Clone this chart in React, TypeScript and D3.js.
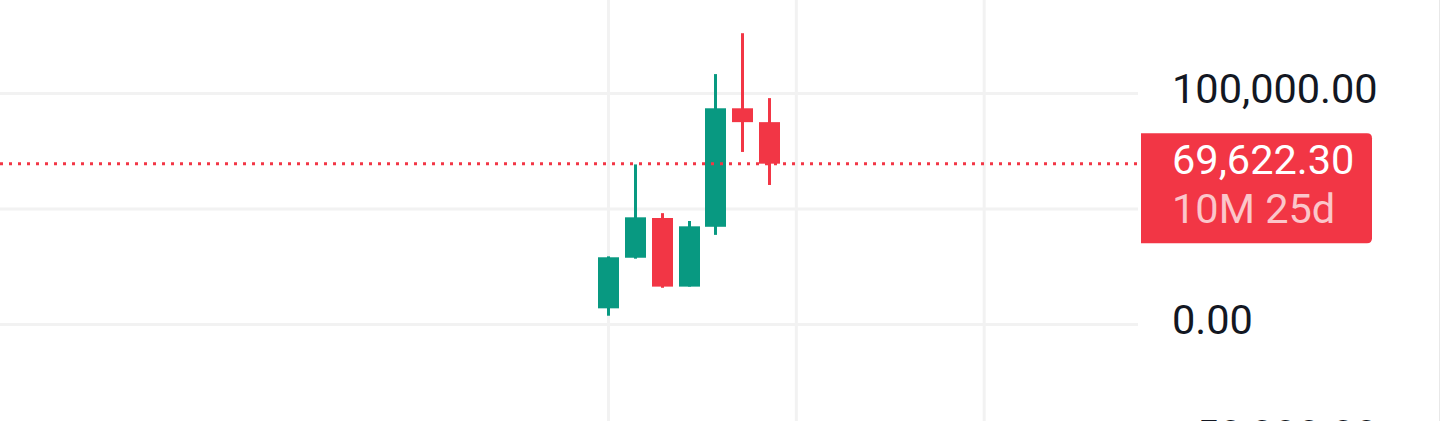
import React from "react";
import * as d3 from "d3";

// ---- data ----
const years = [2020, 2021, 2022, 2023, 2024, 2025, 2026];
const opens = [7000, 28900, 46100, 16400, 42300, 93600, 87600];
const highs = [29500, 69300, 48200, 44800, 108400, 126100, 98000];
const lows = [3800, 28500, 15900, 16400, 38800, 74700, 60400];
const closes = [29100, 46400, 16400, 42500, 93600, 87600, 69622.3];

const gridTicks = [-50000, 0, 50000, 100000];
const labelTicks = [-50000, 0, 100000];
const timeGridYears = [2020, 2027, 2034];

const lastPrice = 69622.3;
const lastPriceLabel = "69,622.30";
const countdownLabel = "10M 25d";

const W = 1440;
const H = 421;
const UP = "#089981";
const DOWN = "#F23645";
const GRID = "#F2F2F2";
const TEXT = "#131722";
const FONT = "Roboto, 'Noto Sans', sans-serif";

export default function App() {
  const x = d3.scaleLinear().domain([2020, 2026]).range([608.5, 769.5]);
  const y = d3.scaleLinear().domain([0, 100000]).range([324.5, 93.5]);
  const fmt = d3.format(",.2f");
  const plotRight = 1138;
  const axisX = 1141;

  const candles = years.map((yr, i) => ({
    yr,
    o: opens[i],
    h: highs[i],
    l: lows[i],
    c: closes[i],
  }));

  const py = y(lastPrice);
  const boxTop = py - 30.5;
  const boxBot = py + 79.5;
  const boxRight = 1372;
  const r = 5;
  const boxPath = `M${axisX},${boxTop} H${boxRight - r} Q${boxRight},${boxTop} ${boxRight},${boxTop + r} V${boxBot - r} Q${boxRight},${boxBot} ${boxRight - r},${boxBot} H${axisX} Z`;

  return (
    <svg
      width={W}
      height={H}
      style={{ position: "absolute", left: 0, top: 0, display: "block", background: "#fff" }}
      fontFamily={FONT}
    >
      <rect x={0} y={0} width={W} height={H} fill="#fff" />
      {/* horizontal grid */}
      {gridTicks.map((t) => (
        <line key={"h" + t} x1={0} x2={plotRight} y1={y(t)} y2={y(t)} stroke={GRID} strokeWidth={3} />
      ))}
      {/* vertical grid */}
      {timeGridYears.map((t) => (
        <line key={"v" + t} x1={x(t)} x2={x(t)} y1={0} y2={H} stroke={GRID} strokeWidth={3} />
      ))}
      {/* candles */}
      {candles.map((d) => {
        const cx = x(d.yr);
        const bx = Math.round(cx - 10.5);
        const col = d.c >= d.o ? UP : DOWN;
        const top = y(Math.max(d.o, d.c));
        const bot = y(Math.min(d.o, d.c));
        return (
          <g key={d.yr}>
            <rect x={bx + 9} width={3} y={y(d.h)} height={y(d.l) - y(d.h)} fill={col} />
            <rect x={bx} width={21} y={top} height={Math.max(1, bot - top)} fill={col} />
          </g>
        );
      })}
      {/* last price dotted line */}
      <line
        x1={0}
        x2={plotRight}
        y1={py}
        y2={py}
        stroke={DOWN}
        strokeWidth={3}
        strokeDasharray="3,6"
      />
      {/* price axis labels */}
      {labelTicks.map((t) => (
        <text
          key={"l" + t}
          x={1172}
          y={y(t) - 5.5}
          dominantBaseline="central"
          fontSize={41.5}
          fill={TEXT}
        >
          {t < 0 ? "\u2212" + fmt(-t) : fmt(t)}
        </text>
      ))}
      {/* last price label */}
      <path d={boxPath} fill={DOWN} />
      <text x={1172} y={py - 4.5} dominantBaseline="central" fontSize={41.5} fill="#fff">
        {lastPriceLabel}
      </text>
      <text x={1172} y={py + 44.5} dominantBaseline="central" fontSize={41.5} fill="#fff" fillOpacity={0.72}>
        {countdownLabel}
      </text>
      {/* right border */}
      <line x1={W - 0.5} x2={W - 0.5} y1={0} y2={H} stroke="#E8E8E8" strokeWidth={1} />
    </svg>
  );
}
